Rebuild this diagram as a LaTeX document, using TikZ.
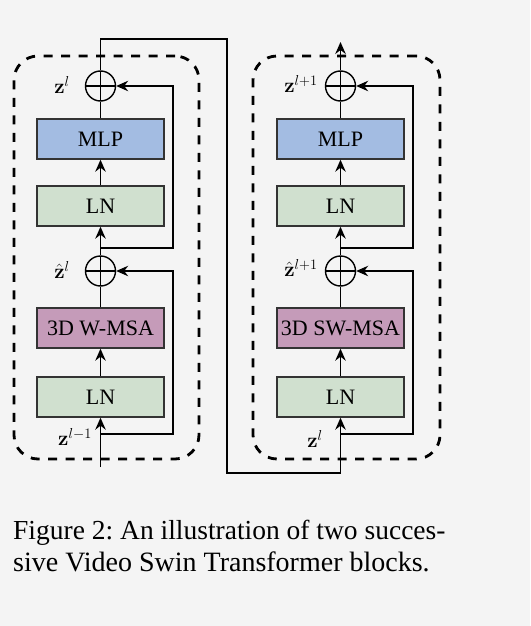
\documentclass[tikz,border=0pt]{standalone}
\usepackage[no-math]{fontspec}
\setmainfont{Liberation Serif}
\usetikzlibrary{arrows.meta,calc}
\definecolor{bg}{RGB}{244,244,244}
\definecolor{mlpc}{RGB}{163,188,226}
\definecolor{lnc}{RGB}{208,224,207}
\definecolor{msac}{RGB}{197,155,185}
\begin{document}
\begin{tikzpicture}[x=1pt,y=-1pt,
 blk/.style={draw=black!80, line width=1.4pt, minimum width=127pt, minimum height=40pt, inner sep=0pt, font=\fontsize{22}{24}\selectfont},
 oplus/.style={circle, draw, line width=1.4pt, minimum size=30pt, inner sep=0pt,
   path picture={\draw[line width=1.4pt] (path picture bounding box.north) -- (path picture bounding box.south) (path picture bounding box.west) -- (path picture bounding box.east);}},
 conn/.style={line width=1.4pt},
 arr/.style={conn, -{Stealth[length=12pt,width=10.5pt,inset=4pt]}},
 dashbox/.style={draw, line width=2.8pt, dash pattern=on 9pt off 8.5pt, rounded corners=24pt, minimum height=403pt, inner sep=0pt},
 lab/.style={font=\fontsize{21}{23}\selectfont, inner sep=0pt}
]
\fill[bg] (0,0) rectangle (530,626);
\useasboundingbox (0,0) rectangle (530,626);

\node[dashbox, minimum width=185pt] (boxA) at (106.5,257.5) {};
\node[dashbox, minimum width=187pt] (boxB) at (346.5,257.5) {};

% left block
\node[blk, fill=lnc] (lnA1) at (100.5,397) {LN};
\node[blk, fill=msac] (msaA) at (100.5,328) {3D W-MSA};
\node[oplus] (addA1) at (100.5,271) {};
\node[blk, fill=lnc] (lnA2) at (100.5,206) {LN};
\node[blk, fill=mlpc] (mlpA) at (100.5,139) {MLP};
\node[oplus] (addA2) at (100.5,86) {};

% right block
\node[blk, fill=lnc] (lnB1) at (340.5,397) {LN};
\node[blk, fill=msac] (msaB) at (340.5,328) {3D SW-MSA};
\node[oplus] (addB1) at (340.5,271) {};
\node[blk, fill=lnc] (lnB2) at (340.5,206) {LN};
\node[blk, fill=mlpc] (mlpB) at (340.5,139) {MLP};
\node[oplus] (addB2) at (340.5,86) {};

% coordinates
\coordinate (inA) at (100.5,467);
\coordinate (brA1) at (100.5,434); \coordinate (skA1) at (173,434);
\coordinate (brA2) at (100.5,248); \coordinate (skA2) at (173,248);
\coordinate (topA) at (100.5,39); \coordinate (topR) at (227,39);
\coordinate (botR) at (227,473); \coordinate (botB) at (340.5,473);
\coordinate (brB1) at (340.5,434); \coordinate (skB1) at (413,434);
\coordinate (brB2) at (340.5,248); \coordinate (skB2) at (413,248);
\coordinate (outB) at (340.5,42);

% left connectors
\draw[arr] (inA) -- (lnA1);
\draw[arr] (brA1) -- (skA1) |- (addA1);
\draw[arr] (lnA1) -- (msaA);
\draw[conn] (msaA) -- (addA1);
\draw[arr] (addA1) -- (lnA2);
\draw[arr] (brA2) -- (skA2) |- (addA2);
\draw[arr] (lnA2) -- (mlpA);
\draw[conn] (mlpA) -- (addA2);
\draw[arr] (addA2) -- (topA) -- (topR) -- (botR) -- (botB) -- (lnB1);

% right connectors
\draw[arr] (brB1) -- (skB1) |- (addB1);
\draw[arr] (lnB1) -- (msaB);
\draw[conn] (msaB) -- (addB1);
\draw[arr] (addB1) -- (lnB2);
\draw[arr] (brB2) -- (skB2) |- (addB2);
\draw[arr] (lnB2) -- (mlpB);
\draw[conn] (mlpB) -- (addB2);
\draw[arr] (addB2) -- (outB);

% labels
\node[lab] (lzA2) at (62,85) {$\mathbf{z}^l$};
\node[lab] (lzA1) at (62,270) {$\hat{\mathbf{z}}^l$};
\node[lab] (lzA0) at (75,437) {$\mathbf{z}^{l-1}$};
\node[lab] (lzB2) at (301,84) {$\mathbf{z}^{l+1}$};
\node[lab] (lzB1) at (301,268) {$\hat{\mathbf{z}}^{l+1}$};
\node[lab] (lzB0) at (315,439) {$\mathbf{z}^l$};

% caption
\node[anchor=base west, inner sep=0pt, font=\fontsize{27.5}{30}\selectfont] (cap1) at (13,539) {Figure 2:\ An illustration of two succes-};
\node[anchor=base west, inner sep=0pt, font=\fontsize{28}{30}\selectfont] (cap2) at (13,571) {sive Video Swin Transformer blocks.};
\end{tikzpicture}
\end{document}
